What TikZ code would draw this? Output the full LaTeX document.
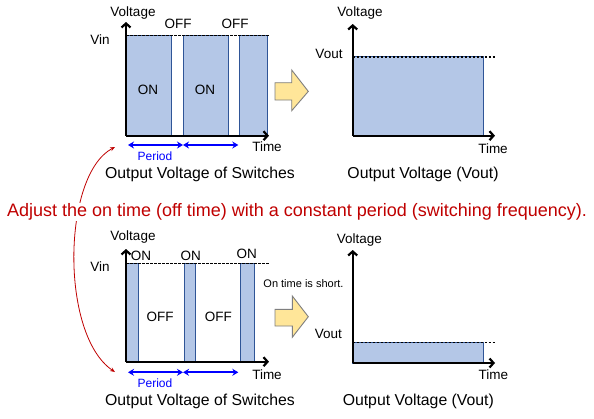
\documentclass[tikz,border=0pt]{standalone}
\usepackage{fontspec}
\setmainfont{Liberation Sans}
\usetikzlibrary{arrows.meta}
\definecolor{onfill}{HTML}{B4C7E7}
\definecolor{onedge}{HTML}{2F5597}
\definecolor{arrfill}{HTML}{FFE699}
\definecolor{arredge}{HTML}{7F7F7F}
\definecolor{redtxt}{HTML}{C00000}
\begin{document}
\begin{tikzpicture}[x=1pt,y=-1pt,
  lbl/.style={inner sep=0pt, font=\fontsize{13.5}{14}\selectfont},
  captxt/.style={inner sep=0pt, font=\fontsize{15.8}{17}\selectfont},
  per/.style={inner sep=0pt, text=blue, font=\fontsize{12}{13}\selectfont},
  smalltxt/.style={inner sep=0pt, font=\fontsize{11}{12}\selectfont},
  axis/.style={line width=2.2pt, -{Straight Barb[length=4pt,width=9pt]}},
  onrect/.style={fill=onfill, draw=onedge, line width=0.9pt},
  level/.style={line width=1.6pt, dash pattern=on 2.5pt off 1.5pt},
  periodarr/.style={blue, line width=2pt, {Stealth[length=6pt,width=7pt]}-{Stealth[length=6pt,width=7pt]}},
  blockarr/.style={fill=arrfill, draw=arredge, line width=0.9pt, line join=miter},
  redarr/.style={redtxt, line width=0.8pt, {Stealth[length=5pt,width=4pt]}-{Stealth[length=5pt,width=4pt]}}
]
\useasboundingbox (0,0) rectangle (594,418);
\fill[white] (0,0) rectangle (594,418);

% ---------- top-left chart ----------
\coordinate (o1) at (126,135.7);
\coordinate (y1) at (126,22);
\coordinate (x1) at (269,135.7);
\coordinate (v1a) at (126,35.5);
\coordinate (v1b) at (269,35.5);
\draw[onrect] (126,35.5) rectangle (171.7,135.7);
\draw[onrect] (183.3,35.5) rectangle (228.7,135.7);
\draw[onrect] (239.3,35.5) rectangle (267.7,135.7);
\draw[level] (v1a) -- (v1b);
\draw[axis] (o1) -- (y1);
\draw[axis] (o1) -- (x1);
\node[lbl] (volt1) at (133,12.7) {Voltage};
\node[lbl] (vin1) at (100,40) {Vin};
\node[lbl] (off1a) at (178,24) {OFF};
\node[lbl] (off1b) at (235,24) {OFF};
\node[lbl] (on1a) at (148,90) {ON};
\node[lbl] (on1b) at (205,90) {ON};
\node[lbl] (time1) at (267,147) {Time};
\coordinate (p1a) at (128,145);
\coordinate (p1b) at (183,145);
\coordinate (p1c) at (238.3,145);
\draw[periodarr] (p1a) -- (p1b);
\draw[periodarr] (p1b) -- (p1c);
\node[per] (per1) at (155,156) {Period};
\node[captxt] (cap1) at (200,174) {Output Voltage of Switches};

% ---------- top block arrow ----------
\draw[blockarr] (275,82.7) -- (291.7,82.7) -- (291.7,70) -- (308.3,91.4)
  -- (291.7,110.7) -- (291.7,100) -- (275,100) -- cycle;

% ---------- top-right chart ----------
\coordinate (o2) at (352.7,135.7);
\coordinate (y2) at (352.7,24);
\coordinate (x2) at (495,135.7);
\coordinate (v2a) at (352.7,56.7);
\coordinate (v2b) at (495,56.7);
\draw[onrect] (352.7,56.7) rectangle (483.3,135.7);
\draw[level] (v2a) -- (v2b);
\draw[axis] (o2) -- (y2);
\draw[axis] (o2) -- (x2);
\node[lbl] (volt2) at (360,12.7) {Voltage};
\node[lbl] (vout2) at (329,54) {Vout};
\node[lbl] (time2) at (493,149) {Time};
\node[captxt] (cap2) at (423,174) {Output Voltage (Vout)};

% ---------- red curve & text ----------
\coordinate (rtop) at (115,147);
\coordinate (rbot) at (115,372);
\draw[redarr] (rtop) .. controls (62,175) and (60,335) .. (rbot);
\node[fill=white, inner sep=1pt, text=redtxt, font=\fontsize{18}{20}\selectfont] (adj) at (297,212)
  {Adjust the on time (off time) with a constant period (switching frequency).};

% ---------- bottom-left chart ----------
\coordinate (o3) at (126,361.7);
\coordinate (y3) at (126,249);
\coordinate (x3) at (269,361.7);
\coordinate (v3a) at (126,263.3);
\coordinate (v3b) at (269,263.3);
\draw[onrect] (126.7,263.3) rectangle (138.3,361.7);
\draw[onrect] (184.3,263.3) rectangle (195.7,361.7);
\draw[onrect] (240.7,263.3) rectangle (254.3,361.7);
\draw[level] (v3a) -- (v3b);
\draw[axis] (o3) -- (y3);
\draw[axis] (o3) -- (x3);
\node[lbl] (volt3) at (133,237.3) {Voltage};
\node[lbl] (vin3) at (100,266.7) {Vin};
\node[lbl] (on3a) at (141,255.7) {ON};
\node[lbl] (on3b) at (190.7,255.7) {ON};
\node[lbl] (on3c) at (246.7,254) {ON};
\node[lbl] (off3a) at (160,316.7) {OFF};
\node[lbl] (off3b) at (218.3,316.7) {OFF};
\node[lbl] (time3) at (267,375) {Time};
\coordinate (p3a) at (128,372.3);
\coordinate (p3b) at (183,372.3);
\coordinate (p3c) at (238.3,372.3);
\draw[periodarr] (p3a) -- (p3b);
\draw[periodarr] (p3b) -- (p3c);
\node[per] (per3) at (155,383.3) {Period};
\node[captxt] (cap3) at (200,401.7) {Output Voltage of Switches};
\node[smalltxt] (short) at (303.5,284) {On time is short.};

% ---------- bottom block arrow ----------
\draw[blockarr] (275,309.3) -- (292.3,309.3) -- (292.3,296) -- (308.3,316.7)
  -- (292.3,337.3) -- (292.3,326) -- (275,326) -- cycle;

% ---------- bottom-right chart ----------
\coordinate (o4) at (352.7,363);
\coordinate (y4) at (352.7,250);
\coordinate (x4) at (495,363);
\coordinate (v4a) at (352.7,342.3);
\coordinate (v4b) at (495,342.3);
\draw[onrect] (352.7,342.3) rectangle (483.3,363);
\draw[level] (v4a) -- (v4b);
\draw[axis] (o4) -- (y4);
\draw[axis] (o4) -- (x4);
\node[lbl] (volt4) at (359.3,240) {Voltage};
\node[lbl] (vout4) at (328.3,334.3) {Vout};
\node[lbl] (time4) at (493.3,375) {Time};
\node[captxt] (cap4) at (418.3,401) {Output Voltage (Vout)};
\end{tikzpicture}
\end{document}
